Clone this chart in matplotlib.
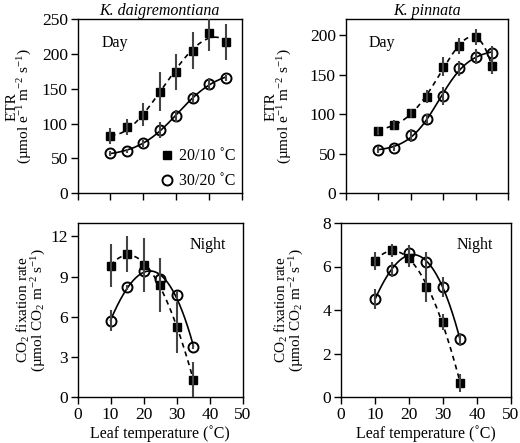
import numpy as np
import matplotlib
matplotlib.use("Agg")
import matplotlib.pyplot as plt
from matplotlib.lines import Line2D

plt.rcParams['font.family'] = ['Liberation Serif', 'DejaVu Serif']
plt.rcParams['mathtext.fontset'] = 'custom'
plt.rcParams['mathtext.rm'] = 'Liberation Serif'
plt.rcParams['mathtext.it'] = 'Liberation Serif:italic'

# ---------------- data ----------------
temp_day = [10, 15, 20, 25, 30, 35, 40, 45]
temp_night = [10, 15, 20, 25, 30, 35]

# K. daigremontiana, Day ETR
kd_day_sq = [82, 95, 113, 146, 175, 205, 230, 217]
kd_day_sq_err = [11, 11, 17, 28, 26, 27, 25, 26]
kd_day_ci = [57, 61, 72, 91, 111, 137, 157, 166]
kd_day_ci_err = [3, 3, 5, 12, 9, 8, 8, 4]

# K. pinnata, Day ETR
kp_day_sq = [79, 86, 101, 122, 160, 186, 198, 161]
kp_day_sq_err = [5, 6, 6, 8, 12, 10, 10, 10]
kp_day_ci = [55, 57, 73, 94, 123, 158, 173, 177]
kp_day_ci_err = [4, 4, 8, 6, 12, 10, 10, 9]

# K. daigremontiana, Night CO2 fixation
kd_night_sq = [9.8, 10.7, 9.85, 8.35, 5.2, 1.3]
kd_night_sq_err = [1.6, 1.35, 2.0, 2.0, 1.9, 1.3]
kd_night_ci = [5.7, 8.2, 9.4, 8.8, 7.65, 3.75]
kd_night_ci_err = [0.8, 0.2, 0.3, 0.3, 0.3, 0.2]

# K. pinnata, Night CO2 fixation
kp_night_sq = [6.25, 6.75, 6.4, 5.05, 3.45, 0.65]
kp_night_sq_err = [0.4, 0.3, 0.4, 0.7, 0.35, 0.4]
kp_night_ci = [4.5, 5.85, 6.6, 6.2, 5.05, 2.65]
kp_night_ci_err = [0.45, 0.35, 0.4, 0.45, 0.45, 0.3]

legend_labels = ['20/10 \u02daC', '30/20 \u02daC']
titles = ['K. daigremontiana', 'K. pinnata']


def logistic_fit(x, y, xs):
    x = np.asarray(x, float); y = np.asarray(y, float)
    best = None
    for x0 in np.linspace(15, 50, 141):
        for k in np.linspace(0.03, 1.0, 98):
            s = 1.0 / (1.0 + np.exp(-k * (x - x0)))
            A = np.column_stack([np.ones_like(x), s])
            coef = np.linalg.lstsq(A, y, rcond=None)[0]
            err = np.sum((A @ coef - y) ** 2)
            if best is None or err < best[0]:
                best = (err, x0, k, coef)
    _, x0, k, coef = best
    return coef[0] + coef[1] / (1.0 + np.exp(-k * (xs - x0)))


def poly_fit(x, y, xs, deg):
    p = np.polyfit(x, y, deg)
    return np.polyval(p, xs)


fig = plt.figure(figsize=(5.2, 4.43), dpi=100)
W, H = 520.0, 443.0

def add_ax(l, r, t, b):
    return fig.add_axes([l / W, 1 - b / H, (r - l) / W, (b - t) / H])

ax_tl = add_ax(77.5, 242, 19.5, 193)
ax_tr = add_ax(345.5, 508, 19.5, 193)
ax_bl = add_ax(77.5, 243, 223, 397)
ax_br = add_ax(341, 511, 223, 397)

FS = 11.5
LFS = 11
TFS = 12.5
ecol = '#444444'

def draw(ax, x, sq, sqe, ci, cie, sq_curve, ci_curve):
    xs = np.linspace(min(x), max(x), 200)
    ax.plot(xs, sq_curve(x, sq, xs), color='black', lw=1.2, ls=(0, (3, 2.5)), zorder=2)
    ax.plot(xs, ci_curve(x, ci, xs), color='black', lw=1.2, ls='-', zorder=2)
    ax.errorbar(x, sq, yerr=sqe, fmt='none', ecolor=ecol, elinewidth=1.5, capsize=0, zorder=4)
    ax.errorbar(x, ci, yerr=cie, fmt='none', ecolor=ecol, elinewidth=1.5, capsize=0, zorder=4)
    ax.plot(x, sq, ls='none', marker='s', ms=6, mfc='black', mec='black', zorder=3)
    ax.plot(x, ci, ls='none', marker='o', ms=7.2, mfc='none', mec='black', mew=1.4, zorder=3)
    ax.set_xlim(0, 50)
    ax.set_xticks([0, 10, 20, 30, 40, 50])
    ax.tick_params(direction='out', length=5, width=1, labelsize=TFS, pad=2)
    for s in ax.spines.values():
        s.set_linewidth(1.0)

draw(ax_tl, temp_day, kd_day_sq, kd_day_sq_err, kd_day_ci, kd_day_ci_err,
     lambda x, y, xs: poly_fit(x, y, xs, 3), logistic_fit)
draw(ax_tr, temp_day, kp_day_sq, kp_day_sq_err, kp_day_ci, kp_day_ci_err,
     lambda x, y, xs: poly_fit(x, y, xs, 4), logistic_fit)
draw(ax_bl, temp_night, kd_night_sq, kd_night_sq_err, kd_night_ci, kd_night_ci_err,
     lambda x, y, xs: poly_fit(x, y, xs, 3), lambda x, y, xs: poly_fit(x, y, xs, 3))
draw(ax_br, temp_night, kp_night_sq, kp_night_sq_err, kp_night_ci, kp_night_ci_err,
     lambda x, y, xs: poly_fit(x, y, xs, 3), lambda x, y, xs: poly_fit(x, y, xs, 3))

ax_tl.set_ylim(0, 250); ax_tl.set_yticks([0, 50, 100, 150, 200, 250])
ax_tr.set_ylim(0, 220); ax_tr.set_yticks([0, 50, 100, 150, 200])
ax_bl.set_ylim(0, 13); ax_bl.set_yticks([0, 3, 6, 9, 12])
ax_br.set_ylim(0, 8); ax_br.set_yticks([0, 2, 4, 6, 8])

for ax in (ax_tl, ax_tr):
    ax.tick_params(axis='x', labelbottom=False)

etr_label = 'ETR\n(\u00b5mol e$^{\\mathrm{-1}}$ m$^{\\mathrm{-2}}$ s$^{\\mathrm{-1}}$)'
co2_label = 'CO$_{\\mathrm{2}}$ fixation rate\n(\u00b5mol CO$_{\\mathrm{2}}$ m$^{\\mathrm{-2}}$ s$^{\\mathrm{-1}}$)'
for ax in (ax_tl, ax_tr):
    ax.set_ylabel(etr_label, fontsize=LFS, linespacing=0.85)
for ax in (ax_bl, ax_br):
    ax.set_ylabel(co2_label, fontsize=LFS, linespacing=0.85)
    ax.set_xlabel('Leaf temperature (\u02daC)', fontsize=FS, labelpad=2)

ax_tl.yaxis.set_label_coords(-0.262, 0.5)
ax_tr.yaxis.set_label_coords(-0.315, 0.5)
ax_bl.yaxis.set_label_coords(-0.178, 0.5)
ax_br.yaxis.set_label_coords(-0.206, 0.5)

ax_tl.set_title(titles[0], fontsize=FS, style='italic', pad=3)
ax_tr.set_title(titles[1], fontsize=FS, style='italic', pad=3)

ax_tl.text(0.145, 0.865, 'Day', transform=ax_tl.transAxes, fontsize=FS, va='center')
ax_tr.text(0.145, 0.865, 'Day', transform=ax_tr.transAxes, fontsize=FS, va='center')
ax_bl.text(0.68, 0.874, 'Night', transform=ax_bl.transAxes, fontsize=FS, va='center')
ax_br.text(0.68, 0.874, 'Night', transform=ax_br.transAxes, fontsize=FS, va='center')

handles = [Line2D([], [], ls='none', marker='s', ms=6, mfc='black', mec='black'),
           Line2D([], [], ls='none', marker='o', ms=7.2, mfc='none', mec='black', mew=1.4)]
ax_tl.legend(handles, legend_labels, loc='lower right', frameon=False, fontsize=FS,
             handlelength=0.8, handletextpad=0.35, labelspacing=0.55,
             borderaxespad=0.0, bbox_to_anchor=(1.0, -0.015))

fig.savefig('out.png', dpi=100)
